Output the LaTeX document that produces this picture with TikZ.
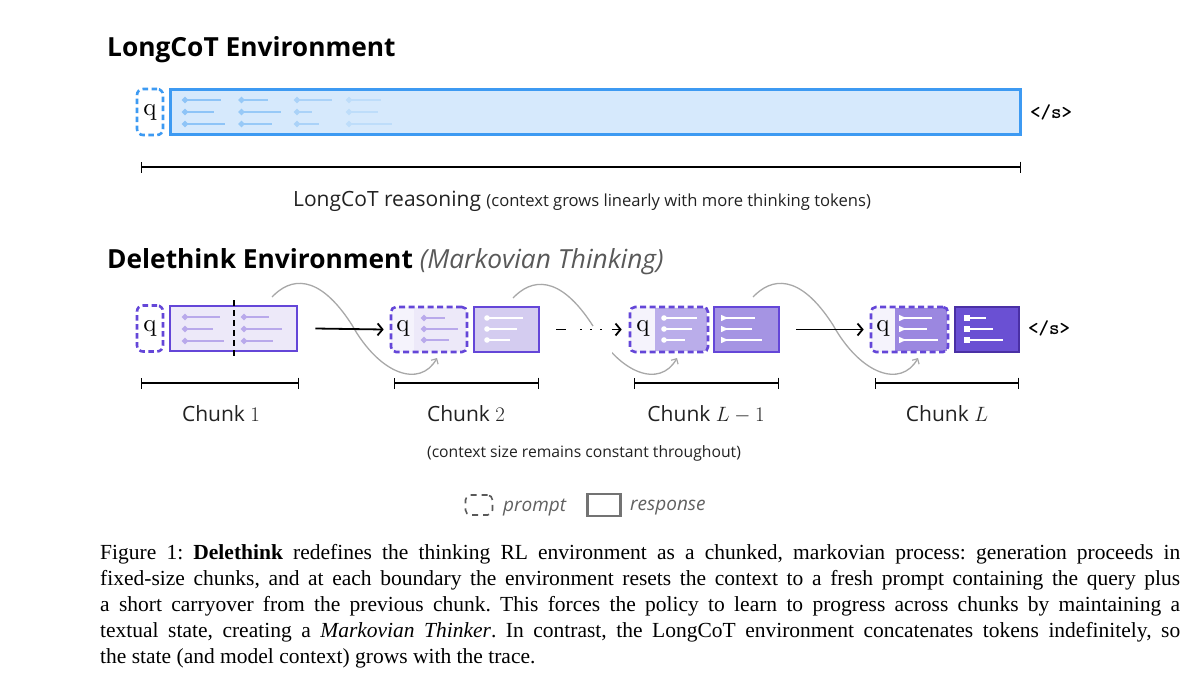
\documentclass[tikz,border=0pt]{standalone}
\usepackage[no-math]{fontspec}
\setmainfont{Open Sans}
\newfontfamily\capfont{Liberation Serif}
\newfontfamily\zqfont{lmroman10-regular.otf}
\usetikzlibrary{arrows.meta}
\definecolor{bblue}{HTML}{3D9AF2}
\definecolor{bfill}{HTML}{D6E9FC}
\definecolor{pborder}{HTML}{6446D8}
\definecolor{pdark}{HTML}{4A30A5}
\definecolor{fq}{HTML}{F5F3FC}
\definecolor{fa}{HTML}{EDE9F9}
\definecolor{fb}{HTML}{D4CCF0}
\definecolor{fc}{HTML}{BAADEA}
\definecolor{fd}{HTML}{A594E3}
\definecolor{fe}{HTML}{9B87E0}
\definecolor{ff}{HTML}{6A50D3}
\definecolor{lav}{HTML}{B9A9EB}
\definecolor{cga}{HTML}{8EC4F7}
\definecolor{cgb}{HTML}{97C9F7}
\definecolor{cgc}{HTML}{AAD2F8}
\definecolor{cgd}{HTML}{BEDDFA}
\definecolor{curv}{HTML}{A8A8A8}
\definecolor{txt}{HTML}{222222}
\newcommand\zdia[4]{\fill[#4] (#1,#2) +(-3.3,0) -- +(0,-3.3) -- +(3.3,0) -- +(0,3.3) -- cycle; \draw[#4,line width=1.6pt] (#1,#2) -- (#3,#2);}
\newcommand\zcir[4]{\fill[#4] (#1,#2) circle (2.8pt); \draw[#4,line width=1.6pt] (#1,#2) -- (#3,#2);}
\newcommand\ztri[4]{\fill[#4] (#1,#2) +(-3,-3.2) -- +(4,0) -- +(-3,3.2) -- cycle; \draw[#4,line width=1.6pt] (#1,#2) -- (#3,#2);}
\newcommand\zsqr[4]{\fill[#4] (#1,#2) +(-3,-3) rectangle +(3,3); \draw[#4,line width=1.6pt] (#1,#2) -- (#3,#2);}
\newcommand\zq{{\zqfont\fontsize{25}{28}\selectfont q}}
\begin{document}
\begin{tikzpicture}[x=1pt,y=-1pt,
  font=\fontsize{21}{25}\selectfont,
  qbox/.style={rounded corners=6pt, line width=2.6pt, dash pattern=on 5.5pt off 3.5pt, minimum width=26pt, minimum height=46pt, inner sep=0pt},
  pbox/.style={draw=pborder, rounded corners=5pt, line width=2.6pt, dash pattern=on 6pt off 3.5pt, minimum height=45pt, inner sep=0pt},
  rbox/.style={draw=pborder, line width=2.8pt, minimum height=45pt, inner sep=0pt},
  qlab/.style={inner sep=0pt},
  eos/.style={font=\fontsize{20}{24}\selectfont\ttfamily\bfseries, inner sep=0pt},
  arr/.style={line width=1.8pt, -{Straight Barb[length=5pt,width=12pt,line width=1.8pt]}},
  span/.style={line width=1.3pt, {Bar[width=11pt,line width=1.3pt]}-{Bar[width=11pt,line width=1.3pt]}},
  carry/.style={curv, line width=1.3pt},
  lab/.style={text=txt, inner sep=0pt, anchor=base},
  head/.style={font=\fontsize{26.3}{30}\selectfont\bfseries, inner sep=0pt, anchor=base west}
]
\useasboundingbox (0,0) rectangle (1200,694);

% ---------- LongCoT ----------
\node[head] (h1) at (107,56) {LongCoT Environment};
\node[qbox, draw=bblue, fill=white] (q0) at (150,112) {\zq};
\node[draw=bblue, fill=bfill, line width=3pt, minimum width=850pt, minimum height=45pt, inner sep=0pt] (long) at (595,112) {};
\zdia{185}{100}{221}{cga}\zdia{185}{112}{214}{cga}\zdia{185}{124}{225}{cga}
\zdia{241.5}{100}{268}{cgb}\zdia{241.5}{112}{281}{cgb}\zdia{241.5}{124}{272}{cgb}
\zdia{297}{100}{332}{cgc}\zdia{297}{112}{312}{cgc}\zdia{297}{124}{319}{cgc}
\zdia{349}{100}{381}{cgd}\zdia{349}{112}{378}{cgd}\zdia{349}{124}{392}{cgd}
\node[eos] (e0) at (1051,112) {</s>};
\coordinate (ls) at (141,167);
\coordinate (le) at (1021,167);
\draw[span] (ls) -- (le);
\node[lab] (l0) at (582,206) {LongCoT reasoning {\fontsize{16.6}{20}\selectfont (context grows linearly with more thinking tokens)}};

% ---------- Delethink ----------
\node[head] (h2) at (107,268) {Delethink Environment {\mdseries\itshape\color{black!65}(Markovian Thinking)}};

% carryover curves (behind)
\draw[carry, -{Straight Barb[length=4pt,width=8pt,line width=1.2pt]}] (272,297) .. controls (290,278) and (318,272) .. (352,325) .. controls (380,375) and (420,388) .. (437,358);
\draw[carry] (513,298) .. controls (531,279) and (559,273) .. (593,326);
\begin{scope}
\clip (612,330) rectangle (700,400);
\draw[carry, -{Straight Barb[length=4pt,width=8pt,line width=1.2pt]}] (512,297) .. controls (530,278) and (558,272) .. (592,325) .. controls (620,375) and (660,388) .. (677,358);
\end{scope}
\draw[carry, -{Straight Barb[length=4pt,width=8pt,line width=1.2pt]}] (753,297) .. controls (771,278) and (799,272) .. (833,325) .. controls (861,375) and (901,388) .. (918,358);

% chunk 1
\node[qbox, draw=pborder, fill=white] (q1) at (150,328.5) {\zq};
\node[rbox, fill=fa, minimum width=127pt] (r1) at (233.5,328.5) {};
\zdia{185}{317}{220}{lav}\zdia{185}{329}{213}{lav}\zdia{185}{341}{224}{lav}
\zdia{244}{317}{269}{lav}\zdia{244}{329}{282}{lav}\zdia{244}{341}{273}{lav}
\coordinate (d1a) at (234,300);
\coordinate (d1b) at (234,358);
\draw[line width=1.1pt, dash pattern=on 6pt off 4pt] (d1a) -- (d1b);

% chunk 2
\fill[fq, rounded corners=5pt] (391,307) rectangle (467,352);
\fill[fa] (414,308.3) rectangle (465.7,350.7);
\node[pbox, minimum width=76pt] (p2) at (429,329.5) {};
\node[qlab] (q2) at (403,328) {\zq};
\zdia{424}{318}{445}{lav}\zdia{424}{329}{458}{lav}\zdia{424}{340}{449}{lav}
\node[rbox, fill=fb, minimum width=65pt] (r2) at (506.5,329.5) {};
\zcir{487}{318}{523}{white}\zcir{487}{329}{517}{white}\zcir{487}{340}{510}{white}

% chunk L-1
\fill[fq, rounded corners=5pt] (630,307) rectangle (708,352);
\fill[fc] (655,308.3) rectangle (706.7,350.7);
\node[pbox, minimum width=78pt] (p3) at (669,329.5) {};
\node[qlab] (q3) at (643,328) {\zq};
\zcir{664}{318}{697}{white}\zcir{664}{329}{692}{white}\zcir{664}{340}{685}{white}
\node[rbox, fill=fd, minimum width=65pt] (r3) at (746.5,329.5) {};
\ztri{724}{318}{755}{white}\ztri{724}{329}{752}{white}\ztri{724}{340}{762}{white}

% chunk L
\fill[fq, rounded corners=5pt] (871,307) rectangle (948,352);
\fill[fe] (895,308.3) rectangle (946.7,350.7);
\node[pbox, minimum width=77pt] (p4) at (909.5,329.5) {};
\node[qlab] (q4) at (883,328) {\zq};
\ztri{902}{318}{932}{white}\ztri{902}{329}{927}{white}\ztri{902}{340}{938}{white}
\node[rbox, draw=pdark, fill=ff, minimum width=64pt] (r4) at (987,329.5) {};
\zsqr{967}{318}{986}{white}\zsqr{967}{329}{993}{white}\zsqr{967}{340}{1003}{white}
\node[eos] (e4) at (1049,328) {</s>};

% arrows between chunks
\draw[arr] ([xshift=17pt]r1.east) -- ([xshift=-6pt]p2.west);
\draw[arr, dash pattern=on 10pt off 14pt on 1.5pt off 8.5pt on 1.5pt off 8.5pt on 1.5pt off 10pt on 14pt] ([xshift=16pt]r2.east) -- ([xshift=-7pt]p3.west);
\draw[arr] ([xshift=16pt]r3.east) -- ([xshift=-6pt]p4.west);

% spans
\coordinate (s1a) at (141,383); \coordinate (s1b) at (299,383);
\coordinate (s2a) at (394,383); \coordinate (s2b) at (539,383);
\coordinate (s3a) at (634,383); \coordinate (s3b) at (779,383);
\coordinate (s4a) at (875,383); \coordinate (s4b) at (1019,383);
\draw[span] (s1a) -- (s1b);
\draw[span] (s2a) -- (s2b);
\draw[span] (s3a) -- (s3b);
\draw[span] (s4a) -- (s4b);
\node[lab] (c1) at (221,421) {Chunk $1$};
\node[lab] (c2) at (466,421) {Chunk $2$};
\node[lab] (c3) at (706,421) {Chunk $L-1$};
\node[lab] (c4) at (947,421) {Chunk $L$};
\node[lab, font=\fontsize{15.7}{19}\selectfont] (cc) at (584,457) {(context size remains constant throughout)};

% legend
\node[draw=black!65, line width=1.6pt, rounded corners=5pt, dash pattern=on 6pt off 5pt, minimum width=27pt, minimum height=20pt, inner sep=0pt] (lg1) at (479,505) {};
\node[anchor=west, inner sep=0pt, font=\fontsize{19}{23}\selectfont\itshape, text=black!62] (lt1) at (503,508) {prompt};
\node[draw=black!55, line width=2.6pt, minimum width=33pt, minimum height=22pt, inner sep=0pt] (lg2) at (604,505) {};
\node[anchor=west, inner sep=0pt, font=\fontsize{19}{23}\selectfont\itshape, text=black!62] (lt2) at (630,508) {response};

% caption
\node[anchor=base west, inner sep=0pt] (cap) at (100,559) {\parbox[t]{1080pt}{\capfont\fontsize{21.5}{26}\selectfont\frenchspacing
Figure 1: \textbf{Delethink} redefines the thinking RL environment as a chunked, markovian process: generation proceeds in\linebreak
fixed-size chunks, and at each boundary the environment resets the context to a fresh prompt containing the query plus\linebreak
a short carryover from the previous chunk. This forces the policy to learn to progress across chunks by maintaining a\linebreak
textual state, creating a \textit{Markovian Thinker}. In contrast, the LongCoT environment concatenates tokens indefinitely, so\linebreak
the state (and model context) grows with the trace.}};
\end{tikzpicture}
\end{document}
